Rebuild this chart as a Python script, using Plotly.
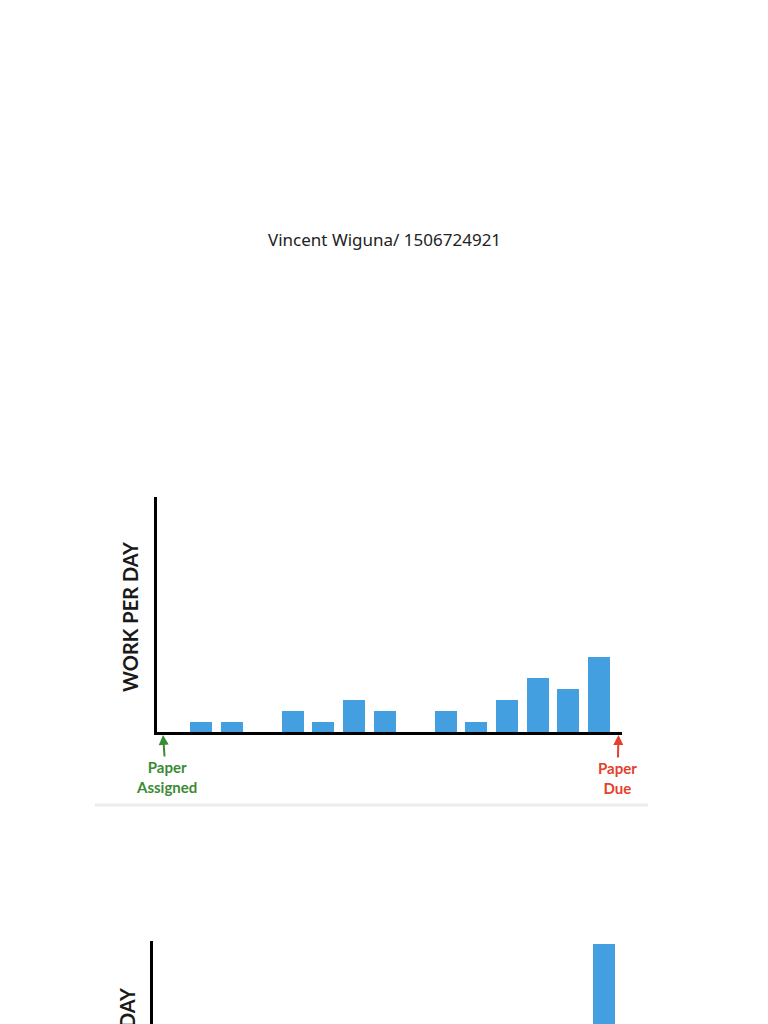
import plotly.graph_objects as go

# ---- data ----
days = list(range(1, 15))
work_planned = [1, 1, 0, 2, 1, 3, 2, 0, 2, 1, 3, 5, 4, 7]
work_actual = [0, 0, 0, 0, 0, 0, 0, 0, 0, 0, 0, 0, 0, 21.5]

title_text = "Vincent Wiguna/ 1506724921"
y_label = "WORK PER DAY"
start_label = "Paper<br>Assigned"
end_label = "Paper<br>Due"

BAR = "#439FE0"
GREEN = "#3A8A36"
RED = "#E5402B"
LABEL_FONT = "Lato"

OFF = 8  # page body margin
W, H = 768 - OFF, 1024 - OFF

def px_x(p):
    return (p - OFF) / W

def px_y(p):
    return (H - (p - OFF)) / H

fig = go.Figure()

fig.add_trace(go.Bar(x=days, y=work_planned, width=0.72, marker_color=BAR,
                     marker_line_width=0, xaxis="x", yaxis="y", showlegend=False))
fig.add_trace(go.Bar(x=days, y=work_actual, width=0.72, marker_color=BAR,
                     marker_line_width=0, xaxis="x2", yaxis="y2", showlegend=False))

axis_common = dict(showgrid=False, zeroline=False, showticklabels=False, ticks="")

fig.update_layout(
    width=W, height=H,
    margin=dict(l=0, r=0, t=0, b=0),
    paper_bgcolor="white", plot_bgcolor="white",
    xaxis=dict(domain=[px_x(157), px_x(622)], range=[-0.44, 14.76],
               showline=True, linecolor="black", linewidth=2.5, anchor="y", **axis_common),
    yaxis=dict(domain=[px_y(732), px_y(496.7)], range=[0, 21.8],
               showline=True, linecolor="black", linewidth=2.5, anchor="x", **axis_common),
    xaxis2=dict(domain=[px_x(153), px_x(620)], range=[-0.74, 14.52],
                showline=False, anchor="y2", **axis_common),
    yaxis2=dict(domain=[0, px_y(940.7)], range=[14.09, 21.8],
                showline=True, linecolor="black", linewidth=2.5, anchor="x2", **axis_common),
    bargap=0,
)

annotations = [
    dict(text=title_text, xref="paper", yref="paper", x=px_x(384.5), y=px_y(239),
         xanchor="center", yanchor="middle", showarrow=False,
         font=dict(family="Noto Sans", size=17, color="#222222")),
    dict(text="<b>" + y_label + "</b>", xref="paper", yref="paper", x=px_x(130), y=px_y(617),
         xanchor="center", yanchor="middle", textangle=-90, showarrow=False,
         font=dict(family=LABEL_FONT, size=20, color="#1a1a1a")),
    dict(text="<b>" + y_label + "</b>", xref="paper", yref="paper", x=px_x(127), y=px_y(1062),
         xanchor="center", yanchor="middle", textangle=-90, showarrow=False,
         font=dict(family=LABEL_FONT, size=20, color="#1a1a1a")),
    dict(text="<b>" + start_label + "</b>", xref="paper", yref="paper", x=px_x(163), y=px_y(735),
         ax=3, ay=42, showarrow=True, arrowhead=2, arrowsize=1, arrowwidth=2,
         arrowcolor=GREEN, font=dict(family=LABEL_FONT, size=15, color=GREEN)),
    dict(text="<b>" + end_label + "</b>", xref="paper", yref="paper", x=px_x(618.5), y=px_y(735),
         ax=-1, ay=43, showarrow=True, arrowhead=2, arrowsize=1, arrowwidth=2,
         arrowcolor=RED, font=dict(family=LABEL_FONT, size=15, color=RED)),
]
fig.update_layout(annotations=annotations)

fig.add_shape(type="line", xref="paper", yref="paper",
              x0=px_x(95), x1=px_x(648), y0=px_y(805), y1=px_y(805),
              line=dict(color="#ECECEC", width=3))

fig.write_html("out.html")
